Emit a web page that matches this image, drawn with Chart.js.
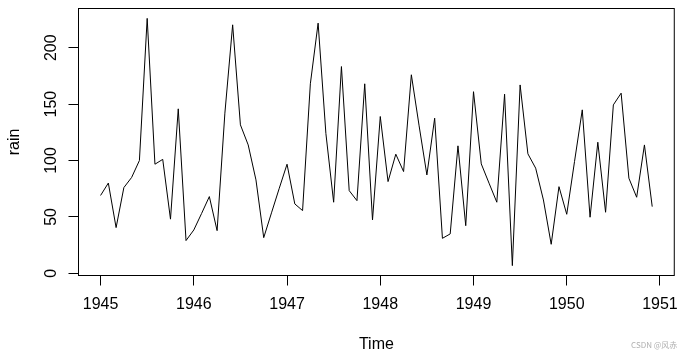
<!DOCTYPE html>
<html>
<head>
<meta charset="utf-8">
<script src="https://cdn.jsdelivr.net/npm/chart.js@4.4.1/dist/chart.umd.min.js"></script>
<style>
  html, body { margin: 0; padding: 0; background: #fff; }
  #wrap { width: 687px; height: 359px; position: relative; }
</style>
</head>
<body>
<div id="wrap"><canvas id="c" width="687" height="359"></canvas></div>
<script>
// ---- data ----
const startYear = 1945;
const frequency = 12;
const rain1945 = [69, 80, 40.5, 76, 85, 100, 226, 96.7, 101, 48, 145.8, 29];
const rain1946 = [38.4, 53, 68, 37.8, 142, 220.3, 131.6, 113.8, 82.8, 31.6, 53.6, 75.4];
const rain1947 = [96.7, 61.5, 55.6, 168, 221.8, 124, 63, 183.3, 73.3, 64.4, 168, 47.3];
const rain1948 = [139, 81.3, 105.6, 90.2, 176, 130.7, 87.2, 137.5, 31, 34.9, 113, 42.2];
const rain1949 = [161, 97, 79.9, 63, 158.8, 6.8, 167, 105.9, 93.2, 65, 25.7, 76.8];
const rain1950 = [52.3, 99, 144.9, 49.7, 116.2, 54.1, 149.3, 159.7, 84.3, 67.4, 113.8, 59.1];
const xTickLabels = [1945, 1946, 1947, 1948, 1949, 1950, 1951];
const yTickLabels = [0, 50, 100, 150, 200];
const xTitle = 'Time';
const yTitle = 'rain';
const watermark = 'CSDN @风赤';

const rain = [].concat(rain1945, rain1946, rain1947, rain1948, rain1949, rain1950);
const points = rain.map((v, i) => ({ x: startYear + i / frequency, y: v }));

// R-style 4% axis extension
const xFirst = startYear, xLast = startYear + (rain.length - 1) / frequency;
const xPad = (xLast - xFirst) * 0.04;
const yMin = Math.min(...rain), yMax = Math.max(...rain);
const yPad = (yMax - yMin) * 0.04;

const FONT = '"Liberation Sans", Arial, sans-serif';

const rAxes = {
  id: 'rAxes',
  afterDraw(chart) {
    const { ctx, chartArea: a, scales: { y } } = chart;
    ctx.save();
    ctx.strokeStyle = '#000';
    ctx.lineWidth = 1;
    ctx.strokeRect(a.left, a.top, a.right - a.left, a.bottom - a.top);
    // y tick labels, rotated like R (las = 0)
    ctx.fillStyle = '#000';
    ctx.font = '16px ' + FONT;
    ctx.textAlign = 'center';
    ctx.textBaseline = 'middle';
    yTickLabels.forEach(v => {
      const py = y.getPixelForValue(v);
      ctx.save();
      ctx.translate(51.5, py);
      ctx.rotate(-Math.PI / 2);
      ctx.fillText(String(v), 0, 0);
      ctx.restore();
    });
    // watermark
    ctx.fillStyle = '#b0b0b0';
    ctx.font = '8px "Noto Sans CJK SC", ' + FONT;
    ctx.textAlign = 'left';
    ctx.fillText(watermark, 631, 345);
    ctx.restore();
  }
};

new Chart(document.getElementById('c'), {
  type: 'line',
  data: {
    datasets: [{
      data: points,
      borderColor: '#000',
      borderWidth: 1,
      pointRadius: 0,
      tension: 0,
      fill: false
    }]
  },
  options: {
    responsive: false,
    animation: false,
    events: [],
    layout: { padding: { top: 8.5, right: 9.5, left: 0, bottom: 0 } },
    plugins: { legend: { display: false }, tooltip: { enabled: false } },
    scales: {
      x: {
        type: 'linear',
        min: xFirst - xPad,
        max: xLast + xPad,
        afterBuildTicks(s) { s.ticks = xTickLabels.map(v => ({ value: v })); },
        afterFit(s) { s.height = 83.5; },
        grid: { drawOnChartArea: false, drawTicks: true, tickLength: 10, color: '#000', lineWidth: 1 },
        border: { display: false },
        ticks: {
          color: '#000',
          font: { family: FONT, size: 16 },
          padding: 9,
          maxRotation: 0,
          autoSkip: false,
          callback: v => String(v)
        },
        title: {
          display: true,
          text: xTitle,
          color: '#000',
          font: { family: FONT, size: 16 },
          padding: { top: 7, bottom: 5 }
        }
      },
      y: {
        type: 'linear',
        min: yMin - yPad,
        max: yMax + yPad,
        afterBuildTicks(s) { s.ticks = yTickLabels.map(v => ({ value: v })); },
        afterFit(s) { s.width = 78.5; },
        grid: { drawOnChartArea: false, drawTicks: true, tickLength: 10, color: '#000', lineWidth: 1 },
        border: { display: false },
        ticks: { display: false },
        title: {
          display: true,
          text: yTitle,
          color: '#000',
          font: { family: FONT, size: 16 },
          padding: { top: 5, bottom: 0 }
        }
      }
    }
  },
  plugins: [rAxes]
});
</script>
</body>
</html>
